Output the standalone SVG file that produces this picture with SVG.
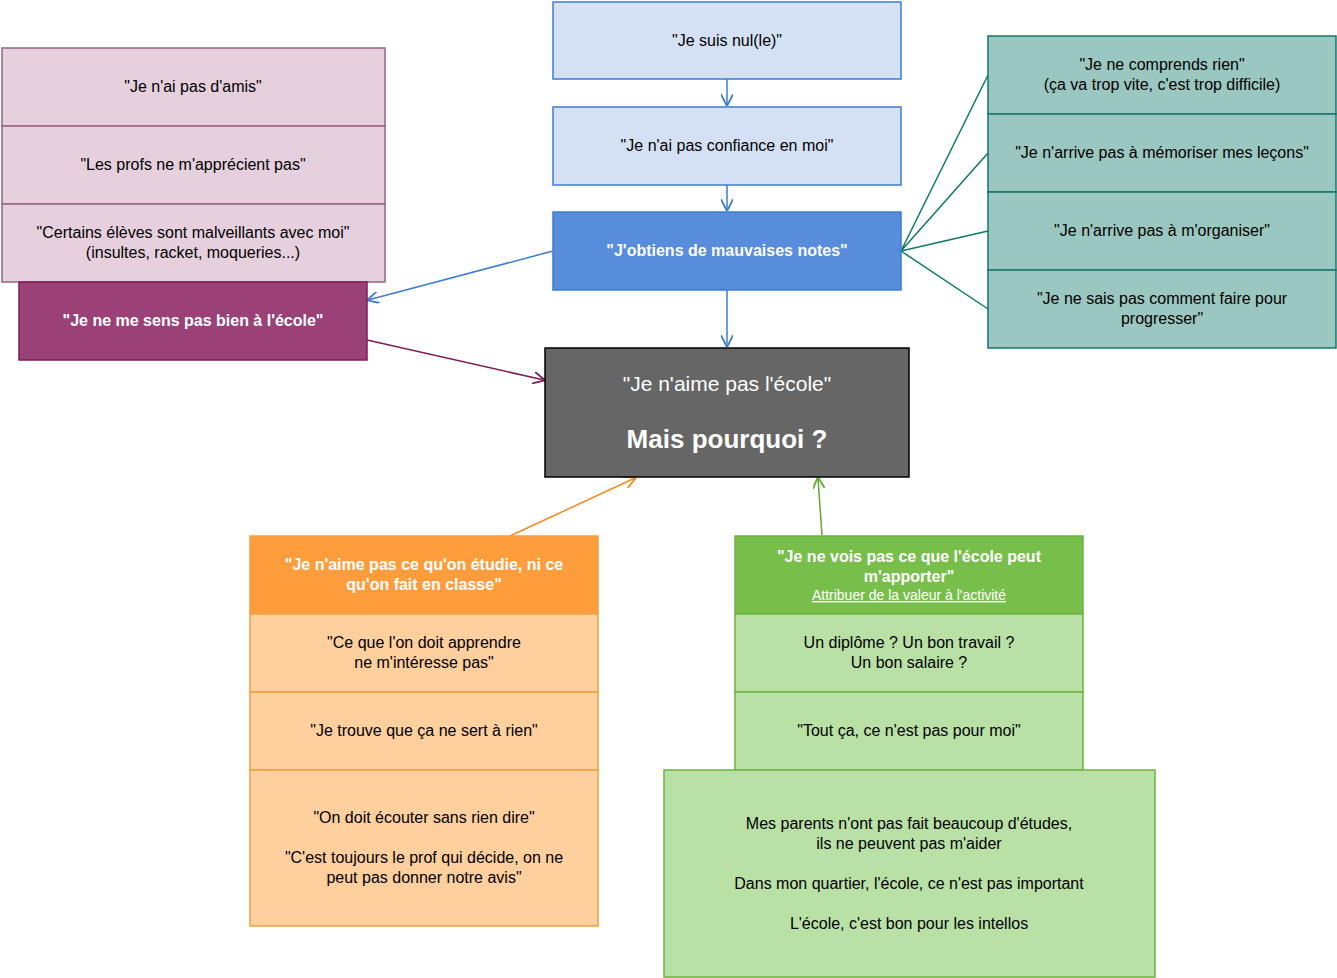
<svg xmlns="http://www.w3.org/2000/svg" width="1337" height="978" viewBox="0 0 1337 978">
<defs>
<style>
text{font-family:"Liberation Sans",Arial,sans-serif;font-size:16px;text-anchor:middle;fill:#000}
.w{fill:#fff;font-weight:bold}
.b{stroke-width:1.5}
</style>
<marker id="ab" viewBox="0 0 10 10" refX="9" refY="5" markerWidth="8" markerHeight="8" orient="auto"><path d="M0,0 L10,5 L0,10" fill="none" stroke="#3d7cd1" stroke-width="1.5"/></marker>
<marker id="ap" viewBox="0 0 10 10" refX="9" refY="5" markerWidth="8" markerHeight="8" orient="auto"><path d="M0,0 L10,5 L0,10" fill="none" stroke="#7e1e56" stroke-width="1.5"/></marker>
<marker id="ao" viewBox="0 0 10 10" refX="9" refY="5" markerWidth="8" markerHeight="8" orient="auto"><path d="M0,0 L10,5 L0,10" fill="none" stroke="#f08a1e" stroke-width="1.5"/></marker>
<marker id="ag" viewBox="0 0 10 10" refX="9" refY="5" markerWidth="8" markerHeight="8" orient="auto"><path d="M0,0 L10,5 L0,10" fill="none" stroke="#5fae2e" stroke-width="1.5"/></marker>
</defs>
<rect width="1337" height="978" fill="#fff"/>
<g id="connectors" fill="none" stroke-width="1.5">
<path d="M727,79 V105" stroke="#3d7cd1" marker-end="url(#ab)"/>
<path d="M727,185 V210" stroke="#3d7cd1" marker-end="url(#ab)"/>
<path d="M727,290 V346" stroke="#3d7cd1" marker-end="url(#ab)"/>
<path d="M553,251 L368,300" stroke="#3d7cd1" marker-end="url(#ab)"/>
<path d="M367,340 L544,380" stroke="#7e1e56" marker-end="url(#ap)"/>
<path d="M510,536 L635,478" stroke="#f08a1e" marker-end="url(#ao)"/>
<path d="M822,535 L818,478" stroke="#5fae2e" marker-end="url(#ag)"/>
<path d="M901,251 L988,75 M901,251 L988,153 M901,251 L988,231 M901,251 L988,309" stroke="#0e7a64"/>
</g>
<g id="n-nul"><rect x="553" y="2" width="348" height="77" fill="#d4e1f5" stroke="#3d7cd1" class="b"/><text x="727" y="46">"Je suis nul(le)"</text></g>
<g id="n-confiance"><rect x="553" y="107" width="348" height="78" fill="#d4e1f5" stroke="#3d7cd1" class="b"/><text x="727" y="151">"Je n'ai pas confiance en moi"</text></g>
<g id="n-notes"><rect x="553" y="212" width="348" height="78" fill="#578ddb" stroke="#3d7cd1" class="b"/><text x="727" y="256" class="w">"J'obtiens de mauvaises notes"</text></g>
<g id="n-amis"><rect x="2" y="48" width="383" height="78" fill="#e6d0de" stroke="#996185" class="b"/><text x="193" y="92">"Je n'ai pas d'amis"</text></g>
<g id="n-profs"><rect x="2" y="126" width="383" height="78" fill="#e6d0de" stroke="#996185" class="b"/><text x="193" y="170">"Les profs ne m'apprécient pas"</text></g>
<g id="n-eleves"><rect x="2" y="204" width="383" height="78" fill="#e6d0de" stroke="#996185" class="b"/><text x="193" y="238">"Certains élèves sont malveillants avec moi"</text><text x="193" y="258">(insultes, racket, moqueries...)</text></g>
<g id="n-sens"><rect x="19" y="282" width="348" height="78" fill="#9a4278" stroke="#7e1e56" class="b"/><text x="193" y="326" class="w">"Je ne me sens pas bien à l'école"</text></g>
<g id="n-center"><rect x="545" y="348" width="364" height="129" fill="#666" stroke="#000" class="b"/><text x="727" y="391" style="fill:#fff;font-size:21px">"Je n'aime pas l'école"</text><text x="727" y="448" class="w" style="font-size:26px">Mais pourquoi ?</text></g>
<g id="n-rien"><rect x="988" y="36" width="348" height="78" fill="#9ac7bf" stroke="#16766c" class="b"/><text x="1162" y="70">"Je ne comprends rien"</text><text x="1162" y="90">(ça va trop vite, c'est trop difficile)</text></g>
<g id="n-memo"><rect x="988" y="114" width="348" height="78" fill="#9ac7bf" stroke="#16766c" class="b"/><text x="1162" y="158">"Je n'arrive pas à mémoriser mes leçons"</text></g>
<g id="n-organiser"><rect x="988" y="192" width="348" height="78" fill="#9ac7bf" stroke="#16766c" class="b"/><text x="1162" y="236">"Je n'arrive pas à m'organiser"</text></g>
<g id="n-progresser"><rect x="988" y="270" width="348" height="78" fill="#9ac7bf" stroke="#16766c" class="b"/><text x="1162" y="304">"Je ne sais pas comment faire pour</text><text x="1162" y="324">progresser"</text></g>
<g id="n-etudie"><rect x="250" y="536" width="348" height="78" fill="#ff9d3d" stroke="#f0a040" class="b"/><text x="424" y="570" class="w">"Je n'aime pas ce qu'on étudie, ni ce</text><text x="424" y="590" class="w">qu'on fait en classe"</text></g>
<g id="n-apprendre"><rect x="250" y="614" width="348" height="78" fill="#ffcf9e" stroke="#f0a040" class="b"/><text x="424" y="648">"Ce que l'on doit apprendre</text><text x="424" y="668">ne m'intéresse pas"</text></g>
<g id="n-sert"><rect x="250" y="692" width="348" height="78" fill="#ffcf9e" stroke="#f0a040" class="b"/><text x="424" y="736">"Je trouve que ça ne sert à rien"</text></g>
<g id="n-ecouter"><rect x="250" y="770" width="348" height="156" fill="#ffcf9e" stroke="#f0a040" class="b"/><text x="424" y="823">"On doit écouter sans rien dire"</text><text x="424" y="863">"C'est toujours le prof qui décide, on ne</text><text x="424" y="883">peut pas donner notre avis"</text></g>
<g id="n-apporter"><rect x="735" y="536" width="348" height="78" fill="#77bf4a" stroke="#6eb33f" class="b"/><text x="909" y="562" class="w">"Je ne vois pas ce que l'école peut</text><text x="909" y="582" class="w">m'apporter"</text><text x="909" y="600" style="fill:#fff;font-size:14px;text-decoration:underline">Attribuer de la valeur à l'activité</text></g>
<g id="n-diplome"><rect x="735" y="614" width="348" height="78" fill="#b9e0a5" stroke="#6eb33f" class="b"/><text x="909" y="648">Un diplôme ? Un bon travail ?</text><text x="909" y="668">Un bon salaire ?</text></g>
<g id="n-pasmoi"><rect x="735" y="692" width="348" height="78" fill="#b9e0a5" stroke="#6eb33f" class="b"/><text x="909" y="736">"Tout ça, ce n'est pas pour moi"</text></g>
<g id="n-parents"><rect x="664" y="770" width="491" height="207" fill="#b9e0a5" stroke="#6eb33f" class="b"/><text x="909" y="829">Mes parents n'ont pas fait beaucoup d'études,</text><text x="909" y="849">ils ne peuvent pas m'aider</text><text x="909" y="889">Dans mon quartier, l'école, ce n'est pas important</text><text x="909" y="929">L'école, c'est bon pour les intellos</text></g>
</svg>
